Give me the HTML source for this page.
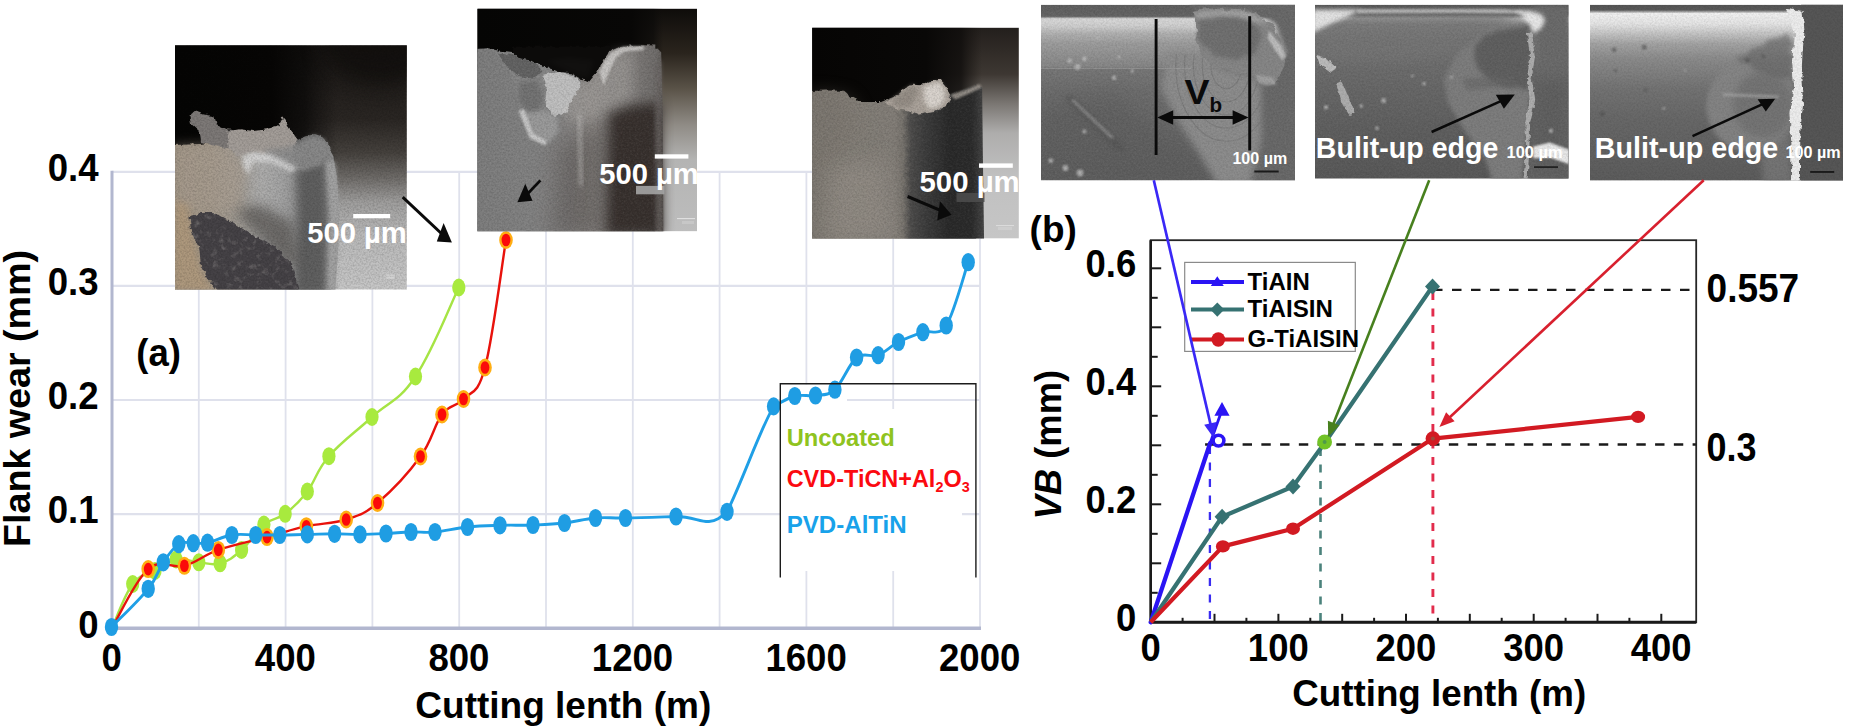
<!DOCTYPE html>
<html lang="en">
<head>
<meta charset="utf-8">
<title>Flank wear vs cutting length</title>
<style>
html,body{margin:0;padding:0;background:#fff;}
body{width:1850px;height:726px;overflow:hidden;}
svg{display:block;}
text{font-family:"Liberation Sans", Arial, Helvetica, sans-serif;font-weight:700;}
</style>
</head>
<body>
<svg width="1850" height="726" viewBox="0 0 1850 726">

<defs>

<filter color-interpolation-filters="sRGB" id="b1" x="-20%" y="-20%" width="140%" height="140%"><feGaussianBlur stdDeviation="1"/></filter>
<filter color-interpolation-filters="sRGB" id="b2" x="-20%" y="-20%" width="140%" height="140%"><feGaussianBlur stdDeviation="2"/></filter>
<filter color-interpolation-filters="sRGB" id="b3" x="-30%" y="-30%" width="160%" height="160%"><feGaussianBlur stdDeviation="3.5"/></filter>
<filter color-interpolation-filters="sRGB" id="b6" x="-40%" y="-40%" width="180%" height="180%"><feGaussianBlur stdDeviation="6"/></filter>
<filter color-interpolation-filters="sRGB" id="b10" x="-50%" y="-50%" width="200%" height="200%"><feGaussianBlur stdDeviation="10"/></filter>
<filter color-interpolation-filters="sRGB" id="soft" x="-5%" y="-5%" width="110%" height="110%"><feGaussianBlur stdDeviation="0.45"/></filter>

</defs>
<g id="chartA">
<line x1="198.8" y1="171.8" x2="198.8" y2="628.2" stroke="#dfe1ec" stroke-width="1.8"/>
<line x1="285.6" y1="171.8" x2="285.6" y2="628.2" stroke="#dfe1ec" stroke-width="1.8"/>
<line x1="372.4" y1="171.8" x2="372.4" y2="628.2" stroke="#dfe1ec" stroke-width="1.8"/>
<line x1="459.2" y1="171.8" x2="459.2" y2="628.2" stroke="#dfe1ec" stroke-width="1.8"/>
<line x1="546.0" y1="171.8" x2="546.0" y2="628.2" stroke="#dfe1ec" stroke-width="1.8"/>
<line x1="632.8" y1="171.8" x2="632.8" y2="628.2" stroke="#dfe1ec" stroke-width="1.8"/>
<line x1="719.6" y1="171.8" x2="719.6" y2="628.2" stroke="#dfe1ec" stroke-width="1.8"/>
<line x1="806.4" y1="171.8" x2="806.4" y2="628.2" stroke="#dfe1ec" stroke-width="1.8"/>
<line x1="893.2" y1="171.8" x2="893.2" y2="628.2" stroke="#dfe1ec" stroke-width="1.8"/>
<line x1="980.0" y1="171.8" x2="980.0" y2="628.2" stroke="#dfe1ec" stroke-width="1.8"/>
<line x1="112.0" y1="514.1" x2="980.0" y2="514.1" stroke="#dfe1ec" stroke-width="2.2"/>
<line x1="112.0" y1="400.0" x2="980.0" y2="400.0" stroke="#dfe1ec" stroke-width="2.2"/>
<line x1="112.0" y1="285.9" x2="980.0" y2="285.9" stroke="#dfe1ec" stroke-width="2.2"/>
<line x1="112.0" y1="171.8" x2="980.0" y2="171.8" stroke="#dfe1ec" stroke-width="2.2"/>
<line x1="112.0" y1="170.8" x2="112.0" y2="629.7" stroke="#b2b7cf" stroke-width="3"/>
<line x1="110.5" y1="628.2" x2="981.0" y2="628.2" stroke="#b2b7cf" stroke-width="3.4"/>
</g>
<g id="legendAbg">
<rect x="781" y="384.5" width="66" height="26" fill="#fff"/>
<rect x="781" y="409" width="181" height="162" fill="#fff"/>
<rect x="962" y="409" width="13" height="100" fill="#fff"/>
<rect x="962" y="518" width="13" height="53" fill="#fff"/>
</g>
<g id="seriesA" filter="url(#soft)">
<path d="M112.0,628.0 C116.1,619.2 124.1,595.4 132.7,584.0 C141.3,572.6 146.3,575.9 155.0,571.0 C163.7,566.1 167.3,561.2 176.1,559.5 C184.9,557.8 190.0,561.5 198.8,562.3 C207.6,563.1 211.5,565.8 220.1,563.3 C228.7,560.8 232.8,557.8 241.6,550.0 C250.4,542.2 255.2,531.7 263.9,524.5 C272.6,517.3 276.5,520.4 285.2,513.8 C293.9,507.2 298.6,503.0 307.3,491.5 C316.0,480.0 316.0,471.1 328.9,456.2 C341.8,441.3 354.7,432.9 372.0,417.0 C389.3,401.1 398.1,402.4 415.5,376.5 C432.9,350.6 450.1,305.3 458.8,287.5" fill="none" stroke="#a6e444" stroke-width="2.4"/>
<ellipse cx="132.7" cy="584" rx="6.6" ry="9" fill="#a8ea3e"/>
<ellipse cx="155" cy="571" rx="6.6" ry="9" fill="#a8ea3e"/>
<ellipse cx="176.1" cy="559.5" rx="6.6" ry="9" fill="#a8ea3e"/>
<ellipse cx="198.8" cy="562.3" rx="6.6" ry="9" fill="#a8ea3e"/>
<ellipse cx="220.1" cy="563.3" rx="6.6" ry="9" fill="#a8ea3e"/>
<ellipse cx="241.6" cy="550" rx="6.6" ry="9" fill="#a8ea3e"/>
<ellipse cx="263.9" cy="524.5" rx="6.6" ry="9" fill="#a8ea3e"/>
<ellipse cx="285.2" cy="513.8" rx="6.6" ry="9" fill="#a8ea3e"/>
<ellipse cx="307.3" cy="491.5" rx="6.6" ry="9" fill="#a8ea3e"/>
<ellipse cx="328.9" cy="456.2" rx="6.6" ry="9" fill="#a8ea3e"/>
<ellipse cx="372" cy="417" rx="6.6" ry="9" fill="#a8ea3e"/>
<ellipse cx="415.5" cy="376.5" rx="6.6" ry="9" fill="#a8ea3e"/>
<ellipse cx="458.8" cy="287.5" rx="6.6" ry="9" fill="#a8ea3e"/>
<path d="M112.0,628.0 C118.6,617.2 134.9,580.5 148.2,569.1 C161.5,557.7 171.5,569.3 184.4,565.8 C197.3,562.3 203.2,555.2 218.3,549.9 C233.4,544.6 250.9,541.4 267.0,537.1 C283.1,532.8 291.8,529.4 306.3,526.2 C320.8,523.0 333.1,523.8 346.2,519.5 C359.3,515.2 363.9,514.5 377.5,503.0 C391.1,491.4 408.7,472.7 420.5,456.5 C432.3,440.3 434.1,425.0 442.0,414.5 C449.9,404.0 455.6,407.6 463.5,399.0 C471.4,390.4 477.2,396.6 485.0,367.5 C492.8,338.4 502.1,263.4 506.0,240.0" fill="none" stroke="#e8120c" stroke-width="2.4"/>
<ellipse cx="148.2" cy="569.1" rx="6.8" ry="9" fill="#ffae12"/>
<ellipse cx="148.2" cy="569.1" rx="4.4" ry="6.3" fill="#fb0a0a"/>
<ellipse cx="184.4" cy="565.8" rx="6.8" ry="9" fill="#ffae12"/>
<ellipse cx="184.4" cy="565.8" rx="4.4" ry="6.3" fill="#fb0a0a"/>
<ellipse cx="218.3" cy="549.9" rx="6.8" ry="9" fill="#ffae12"/>
<ellipse cx="218.3" cy="549.9" rx="4.4" ry="6.3" fill="#fb0a0a"/>
<ellipse cx="267" cy="537.1" rx="6.8" ry="9" fill="#ffae12"/>
<ellipse cx="267" cy="537.1" rx="4.4" ry="6.3" fill="#fb0a0a"/>
<ellipse cx="306.3" cy="526.2" rx="6.8" ry="9" fill="#ffae12"/>
<ellipse cx="306.3" cy="526.2" rx="4.4" ry="6.3" fill="#fb0a0a"/>
<ellipse cx="346.2" cy="519.5" rx="6.8" ry="9" fill="#ffae12"/>
<ellipse cx="346.2" cy="519.5" rx="4.4" ry="6.3" fill="#fb0a0a"/>
<ellipse cx="377.5" cy="503" rx="6.8" ry="9" fill="#ffae12"/>
<ellipse cx="377.5" cy="503" rx="4.4" ry="6.3" fill="#fb0a0a"/>
<ellipse cx="420.5" cy="456.5" rx="6.8" ry="9" fill="#ffae12"/>
<ellipse cx="420.5" cy="456.5" rx="4.4" ry="6.3" fill="#fb0a0a"/>
<ellipse cx="442" cy="414.5" rx="6.8" ry="9" fill="#ffae12"/>
<ellipse cx="442" cy="414.5" rx="4.4" ry="6.3" fill="#fb0a0a"/>
<ellipse cx="463.5" cy="399" rx="6.8" ry="9" fill="#ffae12"/>
<ellipse cx="463.5" cy="399" rx="4.4" ry="6.3" fill="#fb0a0a"/>
<ellipse cx="485" cy="367.5" rx="6.8" ry="9" fill="#ffae12"/>
<ellipse cx="485" cy="367.5" rx="4.4" ry="6.3" fill="#fb0a0a"/>
<ellipse cx="506" cy="240" rx="6.8" ry="9" fill="#ffae12"/>
<ellipse cx="506" cy="240" rx="4.4" ry="6.3" fill="#fb0a0a"/>
<path d="M111.5,627.0 C118.8,619.4 137.8,601.7 148.2,588.8 C158.6,575.9 157.2,571.2 163.3,562.3 C169.4,553.4 172.8,547.9 178.8,544.1 C184.8,540.3 187.6,543.4 193.3,543.1 C199.0,542.8 199.8,544.3 207.5,542.7 C215.2,541.1 222.3,536.5 231.9,535.0 C241.5,533.5 246.1,535.0 255.7,535.0 C265.3,535.0 269.5,535.1 279.8,535.0 C290.1,534.9 296.3,534.6 307.3,534.4 C318.3,534.2 324.1,533.8 334.6,533.8 C345.1,533.8 349.7,534.5 360.0,534.4 C370.3,534.3 375.8,534.0 386.0,533.5 C396.2,533.0 401.2,532.3 411.0,532.0 C420.8,531.7 423.7,533.0 435.0,532.0 C446.3,531.0 454.5,528.3 467.5,527.0 C480.5,525.7 486.9,525.7 500.0,525.3 C513.1,524.9 520.1,525.5 533.0,525.0 C545.9,524.5 552.0,524.4 564.5,523.0 C577.0,521.6 583.3,519.0 595.5,518.0 C607.7,517.0 609.4,518.3 625.5,518.0 C641.6,517.7 665.9,516.8 676.0,516.5 C692,516.5 700,522 709,521.5 C717,521 721,517 727,511.8 C742,482 759,432 773.6,406.4 L773.6,406.4 C777.1,404.7 787.8,397.8 794.8,396.0 C801.8,394.2 808.8,396.6 815.5,395.5 C822.2,394.4 828.0,396.0 834.9,389.7 C841.8,383.4 849.4,363.3 856.6,357.5 C863.8,351.7 871.1,357.7 878.1,355.1 C885.1,352.5 891.0,345.8 898.5,342.0 C906.0,338.2 914.9,334.9 922.9,332.1 C930.9,329.4 938.7,337.1 946.2,325.5 C953.8,313.9 964.5,272.8 968.2,262.2" fill="none" stroke="#1f9fe6" stroke-width="2.9"/>
<ellipse cx="111.5" cy="627" rx="6.7" ry="9.1" fill="#1f9de3"/>
<ellipse cx="148.2" cy="588.8" rx="6.7" ry="9.1" fill="#1f9de3"/>
<ellipse cx="163.3" cy="562.3" rx="6.7" ry="9.1" fill="#1f9de3"/>
<ellipse cx="178.8" cy="544.1" rx="6.7" ry="9.1" fill="#1f9de3"/>
<ellipse cx="193.3" cy="543.1" rx="6.7" ry="9.1" fill="#1f9de3"/>
<ellipse cx="207.5" cy="542.7" rx="6.7" ry="9.1" fill="#1f9de3"/>
<ellipse cx="231.9" cy="535" rx="6.7" ry="9.1" fill="#1f9de3"/>
<ellipse cx="255.7" cy="535" rx="6.7" ry="9.1" fill="#1f9de3"/>
<ellipse cx="279.8" cy="535" rx="6.7" ry="9.1" fill="#1f9de3"/>
<ellipse cx="307.3" cy="534.4" rx="6.7" ry="9.1" fill="#1f9de3"/>
<ellipse cx="334.6" cy="533.8" rx="6.7" ry="9.1" fill="#1f9de3"/>
<ellipse cx="360" cy="534.4" rx="6.7" ry="9.1" fill="#1f9de3"/>
<ellipse cx="386" cy="533.5" rx="6.7" ry="9.1" fill="#1f9de3"/>
<ellipse cx="411" cy="532" rx="6.7" ry="9.1" fill="#1f9de3"/>
<ellipse cx="435" cy="532" rx="6.7" ry="9.1" fill="#1f9de3"/>
<ellipse cx="467.5" cy="527" rx="6.7" ry="9.1" fill="#1f9de3"/>
<ellipse cx="500" cy="525.3" rx="6.7" ry="9.1" fill="#1f9de3"/>
<ellipse cx="533" cy="525" rx="6.7" ry="9.1" fill="#1f9de3"/>
<ellipse cx="564.5" cy="523" rx="6.7" ry="9.1" fill="#1f9de3"/>
<ellipse cx="595.5" cy="518" rx="6.7" ry="9.1" fill="#1f9de3"/>
<ellipse cx="625.5" cy="518" rx="6.7" ry="9.1" fill="#1f9de3"/>
<ellipse cx="676" cy="516.5" rx="6.7" ry="9.1" fill="#1f9de3"/>
<ellipse cx="727" cy="511.8" rx="6.7" ry="9.1" fill="#1f9de3"/>
<ellipse cx="773.6" cy="406.4" rx="6.7" ry="9.1" fill="#1f9de3"/>
<ellipse cx="794.8" cy="396" rx="6.7" ry="9.1" fill="#1f9de3"/>
<ellipse cx="815.5" cy="395.5" rx="6.7" ry="9.1" fill="#1f9de3"/>
<ellipse cx="834.9" cy="389.7" rx="6.7" ry="9.1" fill="#1f9de3"/>
<ellipse cx="856.6" cy="357.5" rx="6.7" ry="9.1" fill="#1f9de3"/>
<ellipse cx="878.1" cy="355.1" rx="6.7" ry="9.1" fill="#1f9de3"/>
<ellipse cx="898.5" cy="342" rx="6.7" ry="9.1" fill="#1f9de3"/>
<ellipse cx="922.9" cy="332.1" rx="6.7" ry="9.1" fill="#1f9de3"/>
<ellipse cx="946.2" cy="325.5" rx="6.7" ry="9.1" fill="#1f9de3"/>
<ellipse cx="968.2" cy="262.2" rx="6.7" ry="9.1" fill="#1f9de3"/>
</g>
<g id="legendA">
<path d="M780.3,577.6 V383.8 H975.9 V577.6" fill="none" stroke="#1c1c1c" stroke-width="1.4"/>
<text x="786.7" y="445.8" font-size="23.6" fill="#8fc320" textLength="108" lengthAdjust="spacingAndGlyphs">Uncoated</text>
<text x="786.7" y="486.7" font-size="23.6" fill="#fb0a10" textLength="183" lengthAdjust="spacingAndGlyphs">CVD-TiCN+Al<tspan font-size="14.5" dy="5.5">2</tspan><tspan dy="-5.5">O</tspan><tspan font-size="14.5" dy="5.5">3</tspan></text>
<text x="786.7" y="532.7" font-size="23.6" fill="#18a2ea" textLength="120" lengthAdjust="spacingAndGlyphs">PVD-AlTiN</text>
</g>
<g id="textA" fill="#000">
<text transform="translate(98.6,637.5) scale(1,1.068)" font-size="36.6" text-anchor="end">0</text>
<text transform="translate(98.6,523.4) scale(1,1.068)" font-size="36.6" text-anchor="end">0.1</text>
<text transform="translate(98.6,409.3) scale(1,1.068)" font-size="36.6" text-anchor="end">0.2</text>
<text transform="translate(98.6,295.2) scale(1,1.068)" font-size="36.6" text-anchor="end">0.3</text>
<text transform="translate(98.6,181.1) scale(1,1.068)" font-size="36.6" text-anchor="end">0.4</text>
<text transform="translate(111.7,671.1) scale(1,1.068)" font-size="36.6" text-anchor="middle">0</text>
<text transform="translate(285.3,671.1) scale(1,1.068)" font-size="36.6" text-anchor="middle">400</text>
<text transform="translate(458.9,671.1) scale(1,1.068)" font-size="36.6" text-anchor="middle">800</text>
<text transform="translate(632.5,671.1) scale(1,1.068)" font-size="36.6" text-anchor="middle">1200</text>
<text transform="translate(806.1,671.1) scale(1,1.068)" font-size="36.6" text-anchor="middle">1600</text>
<text transform="translate(979.7,671.1) scale(1,1.068)" font-size="36.6" text-anchor="middle">2000</text>
<text x="415.3" y="718.3" font-size="36.6" textLength="296" lengthAdjust="spacingAndGlyphs">Cutting lenth (m)</text>
<text transform="translate(30.1,547) rotate(-90)" font-size="37.8" textLength="297" lengthAdjust="spacingAndGlyphs">Flank wear (mm)</text>
<text transform="translate(136.3,365.8) scale(1,1.045)" font-size="36.6">(a)</text>
</g>
<defs>

<filter color-interpolation-filters="sRGB" id="grain" x="0" y="0" width="100%" height="100%">
  <feTurbulence type="fractalNoise" baseFrequency="0.55" numOctaves="2" seed="7" result="n"/>
  <feColorMatrix in="n" type="matrix" values="0 0 0 0 0  0 0 0 0 0  0 0 0 0 0  0.9 0 0 0 -0.32"/>
</filter>
<filter color-interpolation-filters="sRGB" id="rough" x="-10%" y="-10%" width="120%" height="120%">
  <feTurbulence type="fractalNoise" baseFrequency="0.09" numOctaves="3" seed="3" result="t"/>
  <feDisplacementMap in="SourceGraphic" in2="t" scale="9" xChannelSelector="R" yChannelSelector="G"/>
  <feGaussianBlur stdDeviation="0.7"/>
</filter>
<filter color-interpolation-filters="sRGB" id="roughb" x="-15%" y="-15%" width="130%" height="130%">
  <feTurbulence type="fractalNoise" baseFrequency="0.09" numOctaves="3" seed="9" result="t"/>
  <feDisplacementMap in="SourceGraphic" in2="t" scale="10" xChannelSelector="R" yChannelSelector="G"/>
  <feGaussianBlur stdDeviation="2.2"/>
</filter>
<filter color-interpolation-filters="sRGB" id="b05" x="-5%" y="-5%" width="110%" height="110%"><feGaussianBlur stdDeviation="0.7"/></filter>
<filter color-interpolation-filters="sRGB" id="rough2" x="-10%" y="-10%" width="120%" height="120%">
  <feTurbulence type="fractalNoise" baseFrequency="0.2" numOctaves="2" seed="5" result="t"/>
  <feDisplacementMap in="SourceGraphic" in2="t" scale="5" xChannelSelector="R" yChannelSelector="G"/>
  <feGaussianBlur stdDeviation="0.6"/>
</filter>
<filter color-interpolation-filters="sRGB" id="mottle" x="0" y="0" width="100%" height="100%">
  <feTurbulence type="fractalNoise" baseFrequency="0.16" numOctaves="3" seed="21" result="n"/>
  <feColorMatrix in="n" type="matrix" values="0 0 0 0 0.75  0 0 0 0 0.73  0 0 0 0 0.72  1.6 0 0 0 -0.85" result="m"/>
  <feComposite in="m" in2="SourceGraphic" operator="in"/>
</filter>
<filter color-interpolation-filters="sRGB" id="grainL" x="0" y="0" width="100%" height="100%">
  <feTurbulence type="fractalNoise" baseFrequency="0.5" numOctaves="2" seed="11" result="n"/>
  <feColorMatrix in="n" type="matrix" values="0 0 0 0 1  0 0 0 0 1  0 0 0 0 1  0.9 0 0 0 -0.36"/>
</filter>


<linearGradient id="p1bg" x1="0" y1="0" x2="0" y2="1">
 <stop offset="0" stop-color="#1b1816"/><stop offset="0.3" stop-color="#2a2623"/>
 <stop offset="0.44" stop-color="#46423e"/><stop offset="0.54" stop-color="#6e6b68"/>
 <stop offset="0.64" stop-color="#9f9e9d"/><stop offset="0.78" stop-color="#bababa"/>
 <stop offset="1" stop-color="#c7c7c7"/>
</linearGradient>
<linearGradient id="p1blk" x1="0" y1="0" x2="1" y2="0">
 <stop offset="0" stop-color="#050504" stop-opacity="1"/><stop offset="0.42" stop-color="#070605" stop-opacity="1"/>
 <stop offset="0.56" stop-color="#0b0a09" stop-opacity="0.8"/><stop offset="0.66" stop-color="#100e0d" stop-opacity="0.25"/>
 <stop offset="0.7" stop-color="#141210" stop-opacity="0"/><stop offset="1" stop-color="#141210" stop-opacity="0"/>
</linearGradient>
<linearGradient id="p1tool" gradientUnits="userSpaceOnUse" x1="-1.3" y1="0" x2="164.4" y2="0">
 <stop offset="0" stop-color="#9a8f7f"/><stop offset="0.22" stop-color="#9f9587"/>
 <stop offset="0.42" stop-color="#a29e98"/><stop offset="0.55" stop-color="#a8a7a5"/>
 <stop offset="0.64" stop-color="#969696"/><stop offset="0.74" stop-color="#686868"/>
 <stop offset="0.88" stop-color="#6e6e6e"/><stop offset="0.96" stop-color="#8e8e8e"/>
 <stop offset="1" stop-color="#a0a0a0"/>
</linearGradient>


<linearGradient id="p2bg" x1="0" y1="0" x2="0" y2="1">
 <stop offset="0" stop-color="#0e0c0a"/><stop offset="0.2" stop-color="#2a241d"/>
 <stop offset="0.36" stop-color="#5a5348"/><stop offset="0.52" stop-color="#8f8b85"/>
 <stop offset="0.68" stop-color="#b4b4b3"/><stop offset="1" stop-color="#bdbdbd"/>
</linearGradient>
<linearGradient id="p2blk" x1="0" y1="0" x2="1" y2="0">
 <stop offset="0" stop-color="#050504" stop-opacity="1"/><stop offset="0.7" stop-color="#080706" stop-opacity="1"/>
 <stop offset="0.8" stop-color="#0b0a09" stop-opacity="0.7"/><stop offset="0.845" stop-color="#100e0d" stop-opacity="0"/>
 <stop offset="1" stop-color="#100e0d" stop-opacity="0"/>
</linearGradient>
<linearGradient id="p2tool" gradientUnits="userSpaceOnUse" x1="-1.7" y1="0" x2="186.1" y2="0">
 <stop offset="0" stop-color="#7c7c7c"/><stop offset="0.3" stop-color="#818181"/>
 <stop offset="0.5" stop-color="#838180"/><stop offset="0.62" stop-color="#8a8683"/>
 <stop offset="0.72" stop-color="#7d7a78"/><stop offset="0.85" stop-color="#7a7775"/>
 <stop offset="0.96" stop-color="#6f6c6a"/><stop offset="1" stop-color="#5f5b58"/>
</linearGradient>
<linearGradient id="p2dark" x1="0" y1="0" x2="0" y2="1">
 <stop offset="0" stop-color="#2a2624" stop-opacity="0"/><stop offset="0.35" stop-color="#2a2624" stop-opacity="0"/>
 <stop offset="0.6" stop-color="#2a2624" stop-opacity="0.55"/><stop offset="1" stop-color="#242120" stop-opacity="0.6"/>
</linearGradient>


<linearGradient id="p3bg" x1="0" y1="0" x2="0" y2="1">
 <stop offset="0" stop-color="#231f1c"/><stop offset="0.22" stop-color="#3d3732"/>
 <stop offset="0.36" stop-color="#7a7672"/><stop offset="0.5" stop-color="#aeadac"/>
 <stop offset="0.7" stop-color="#c0c0c0"/><stop offset="1" stop-color="#c6c6c6"/>
</linearGradient>
<linearGradient id="p3blk" x1="0" y1="0" x2="1" y2="0">
 <stop offset="0" stop-color="#060504" stop-opacity="1"/><stop offset="0.55" stop-color="#090807" stop-opacity="1"/>
 <stop offset="0.72" stop-color="#0e0c0b" stop-opacity="0.8"/><stop offset="0.82" stop-color="#15120f" stop-opacity="0"/>
 <stop offset="1" stop-color="#15120f" stop-opacity="0"/>
</linearGradient>
<linearGradient id="p3tool" gradientUnits="userSpaceOnUse" x1="-1.2" y1="0" x2="172" y2="0">
 <stop offset="0" stop-color="#7b766f"/><stop offset="0.25" stop-color="#837e77"/>
 <stop offset="0.48" stop-color="#827d77"/><stop offset="0.53" stop-color="#77736d"/>
 <stop offset="0.575" stop-color="#4d4c4b"/><stop offset="0.66" stop-color="#3c3c3c"/>
 <stop offset="0.8" stop-color="#292929"/><stop offset="0.93" stop-color="#2b2b2b"/>
 <stop offset="1" stop-color="#454545"/>
</linearGradient>


<linearGradient id="s1top" x1="0" y1="0" x2="0" y2="1">
 <stop offset="0" stop-color="#5e5e5e"/><stop offset="0.066" stop-color="#646464"/>
 <stop offset="0.08" stop-color="#d8d8d8"/><stop offset="0.12" stop-color="#cfcfcf"/>
 <stop offset="0.165" stop-color="#b0b0b0"/><stop offset="0.22" stop-color="#9c9c9c"/>
 <stop offset="0.35" stop-color="#868686"/><stop offset="0.365" stop-color="#767676"/>
 <stop offset="0.5" stop-color="#6c6c6c"/><stop offset="1" stop-color="#606060"/>
</linearGradient>
<clipPath id="s1wear"><polygon points="128,49 156,50 179,64 212,72 220,81 220,136 214,160 210,180 177,180 156,146 136,117 119,83"/></clipPath>
<linearGradient id="s2top" x1="0" y1="0" x2="0" y2="1">
 <stop offset="0" stop-color="#575757"/><stop offset="0.055" stop-color="#5c5c5c"/>
 <stop offset="0.08" stop-color="#b4b4b4"/><stop offset="0.115" stop-color="#868686"/>
 <stop offset="0.2" stop-color="#747474"/><stop offset="0.45" stop-color="#686868"/>
 <stop offset="0.7" stop-color="#5f5f5f"/><stop offset="1" stop-color="#585858"/>
</linearGradient>
<linearGradient id="s3top" x1="0" y1="0" x2="0" y2="1">
 <stop offset="0" stop-color="#555"/><stop offset="0.03" stop-color="#5a5a5a"/>
 <stop offset="0.05" stop-color="#f0f0f0"/><stop offset="0.11" stop-color="#e4e4e4"/>
 <stop offset="0.157" stop-color="#c8c8c8"/><stop offset="0.224" stop-color="#a2a2a2"/>
 <stop offset="0.308" stop-color="#8b8b8b"/><stop offset="0.475" stop-color="#737373"/>
 <stop offset="0.64" stop-color="#686868"/><stop offset="1" stop-color="#5c5c5c"/>
</linearGradient>

</defs>
<svg id="photo1" x="175" y="45.2" width="231.8" height="244.3" viewBox="0 0 231.8 244.3" overflow="hidden">
<rect width="232" height="245" fill="url(#p1bg)"/>
<rect x="0" y="0" width="232" height="128" fill="url(#p1blk)"/>
<ellipse cx="205" cy="-5" rx="60" ry="45" fill="#100e0c" opacity="0.75" filter="url(#b10)"/>
<polygon points="-1.3,103.0 15.7,102.5 26.2,102.0 39.3,99.9 52.4,97.3 73.3,92.0 89.0,89.4 104.7,86.8 115.2,89.4 123.0,97.8 130.9,94.6 138.7,92.0 146.6,94.6 153.1,101.2 158.4,111.1 161.8,130.7 164.4,164.7 163.4,201.4 160.2,245.9 -1.3,245.9" fill="url(#p1tool)" filter="url(#b05)"/>
<clipPath id="p1tc"><rect x="-5" y="-5" width="161.0" height="260"/></clipPath>
<g clip-path="url(#p1tc)"><polygon points="-1.3,99.8 15.7,99.3 26.2,98.8 39.3,96.7 52.4,94.1 73.3,88.8 89.0,86.2 104.7,83.6 115.2,86.2 123.0,94.6 130.9,91.4 138.7,88.8 146.6,91.4 153.1,98.0 158.4,111.1 161.8,130.7 164.4,164.7 163.4,201.4 160.2,245.9 -1.3,245.9" fill="url(#p1tool)" filter="url(#rough2)"/></g>
<polygon points="-1.3,100.6 52.4,99.3 73.3,122.9 65.4,164.7 15.7,170.0 -1.3,164.7" fill="#ab9f92" opacity="0.6" filter="url(#b6)"/>
<polygon points="74.6,107.1 115.2,104.5 123.0,122.9 123.0,185.7 119.1,245.9 104.7,245.9 86.4,201.4 75.9,159.5" fill="#b0b0b0" opacity="0.6" filter="url(#b6)"/>
<polygon points="123.0,120.2 146.6,116.3 150.5,159.5 147.9,245.9 123.0,245.9 125.7,180.4" fill="#5c5c5c" opacity="0.75" filter="url(#b3)"/>
<polygon points="150.5,115.0 160.2,117.6 163.6,164.7 161.0,245.9 151.8,245.9 154.5,172.6" fill="#a9a9a9" opacity="0.8" filter="url(#b2)"/>
<polygon points="14.4,70.5 19.6,65.8 28.8,69.2 39.3,71.0 41.9,79.7 52.4,84.1 62.8,85.7 72.0,88.3 65.4,100.6 52.4,103.2 36.6,99.8 26.2,96.7 24.9,87.5 16.2,79.7" fill="#7d7977" filter="url(#rough2)"/>
<polygon points="52.4,86.2 65.4,84.1 78.5,85.7 91.6,84.1 103.4,81.0 108.6,71.0 113.1,81.0 117.8,87.5 123.0,95.4 115.2,107.1 99.5,111.1 78.5,107.1 62.8,111.1 53.7,103.2" fill="#a39d98" filter="url(#rough2)"/>
<polygon points="89.0,104.5 109.9,101.9 123.0,98.0 138.7,90.1 149.2,94.1 154.5,107.1 146.6,120.2 125.7,126.8 109.9,120.2 94.2,113.7" fill="#8e8e8e" opacity="0.85" filter="url(#b2)"/>
<polygon points="66.8,111.1 78.5,107.1 94.2,108.5 109.9,116.3 123.0,123.4 115.2,126.8 96.9,117.6 78.5,116.3 73.3,129.4 68.6,122.9" fill="#dcdcdc" opacity="0.8" filter="url(#b2)"/>
<polygon points="60.2,164.7 86.4,159.5 117.8,177.8 123.0,217.1 115.2,222.3 86.4,196.2" fill="#55524f" opacity="0.7" filter="url(#b6)"/>
<polygon points="-1.3,154.3 13.1,159.5 18.3,190.9 26.2,224.9 39.3,245.9 -1.3,245.9" fill="#b29a7c" opacity="0.8" filter="url(#b3)"/>
<polygon points="14.4,171.3 26.2,167.9 39.3,167.9 57.6,177.3 78.5,190.4 99.5,200.9 115.2,216.6 120.9,232.8 123.6,245.9 43.2,245.9 32.7,232.8 26.2,222.3 24.1,201.4 16.2,187.0" fill="#454246" filter="url(#rough2)"/>
<polygon points="14.4,171.3 26.2,167.9 39.3,167.9 57.6,177.3 78.5,190.4 99.5,200.9 115.2,216.6 120.9,232.8 123.6,245.9 43.2,245.9 32.7,232.8 26.2,222.3 24.1,201.4 16.2,187.0" fill="#fff" filter="url(#mottle)" opacity="0.55"/>
<rect width="232" height="245" filter="url(#grain)" opacity="0.35"/>
</svg>
<rect x="353.2" y="214" width="37" height="4.3" fill="#fff"/>
<text transform="translate(307.2,242.7) scale(1,1.09)" font-size="27.6" fill="#fff" textLength="99.6" lengthAdjust="spacingAndGlyphs">500 µm</text>
<rect x="386" y="274.6" width="9" height="0.9" fill="#ddd"/><rect x="386.5" y="276.6" width="8" height="2.2" fill="#d6d6d6" opacity="0.8"/>
<line x1="402.7" y1="197.2" x2="443" y2="235" stroke="#0a0a0a" stroke-width="3"/><polygon points="443.6,223 436.8,241.4 451.9,242.4" fill="#0a0a0a"/>
<svg id="photo2" x="477.3" y="8.6" width="219.7" height="222.7" viewBox="0 0 219.7 222.7" overflow="hidden">
<rect width="220" height="223" fill="url(#p2bg)"/>
<rect x="0" y="0" width="220" height="62" fill="url(#p2blk)"/>
<polygon points="-1.7,43.5 10.8,42.9 22.0,45.2 35.9,46.8 41.4,52.4 69.3,60.8 91.5,66.3 102.6,72.4 111.0,76.3 119.3,66.3 126.3,53.8 133.2,45.7 144.4,40.7 161.1,39.9 180.5,40.2 183.9,43.6 185.5,104.8 186.1,227.2 -1.7,227.2" fill="url(#p2tool)" filter="url(#b05)"/>
<clipPath id="p2tc"><rect x="-5" y="-5" width="183.0" height="260"/></clipPath>
<g clip-path="url(#p2tc)"><polygon points="-1.7,40.3 10.8,39.7 22.0,42.0 35.9,43.6 41.4,49.2 69.3,57.6 91.5,63.1 102.6,69.2 111.0,73.1 119.3,63.1 126.3,50.6 133.2,42.5 144.4,37.5 161.1,36.7 180.5,37.0 183.9,43.6 185.5,104.8 186.1,227.2 -1.7,227.2" fill="url(#p2tool)" filter="url(#rough2)"/></g>
<polygon points="83.2,79.8 111.0,74.2 130.5,52.0 138.8,43.6 155.5,43.6 155.5,90.9 130.5,104.8 111.0,113.2 88.7,113.2" fill="#a09d9a" opacity="0.65" filter="url(#b6)"/>
<polygon points="80.4,138.2 130.5,113.2 130.5,227.2 74.8,227.2" fill="#5f5b59" opacity="0.6" filter="url(#b10)"/>
<polygon points="131.8,104.8 155.5,96.5 183.9,93.7 185.5,227.2 129.1,227.2 130.5,154.9" fill="#342d2a" opacity="0.95" filter="url(#b6)"/>
<polygon points="177.7,54.8 183.9,52.0 185.5,227.2 179.1,227.2" fill="#6a6563" opacity="0.7" filter="url(#b2)"/>
<polygon points="100.4,104.8 104.0,104.8 105.4,177.2 102.1,177.2" fill="#c4c2c0" opacity="0.6" filter="url(#b2)"/>
<polygon points="16.4,43.1 35.9,44.2 55.4,52.0 69.3,58.1 91.5,63.7 102.6,70.1 103.2,78.4 91.5,93.7 83.2,104.8 80.9,124.3 69.3,136.0 52.6,127.6 41.4,104.8 37.3,77.0 30.3,57.6" fill="#858585" filter="url(#rough2)"/>
<polygon points="20.6,45.0 35.9,46.4 58.1,54.2 65.1,63.1 55.4,70.1 41.4,67.3 28.9,57.6" fill="#5f5f5f" opacity="0.9" filter="url(#rough2)"/>
<polygon points="41.4,74.2 59.5,71.5 66.5,88.2 62.3,102.1 52.6,104.8 41.4,93.7" fill="#6e6e6e" opacity="0.8" filter="url(#b2)"/>
<polygon points="65.1,65.9 83.2,63.1 100.4,69.2 103.2,78.4 95.7,89.5 88.7,104.8 74.8,107.6 67.9,93.7 69.3,78.4" fill="#d8d8d8" opacity="0.7" filter="url(#rough2)"/>
<polygon points="44.2,104.8 69.3,102.1 80.4,110.4 80.4,124.3 69.3,135.4 54.0,127.1" fill="#9c9c9c" opacity="0.9" filter="url(#b2)"/>
<polygon points="41.4,102.1 47.0,100.7 55.4,124.3 69.3,132.7 67.9,136.8 52.6,129.9" fill="#d5d5d5" opacity="0.8" filter="url(#b1)"/>
<polygon points="35.9,38.1 133.2,38.1 127.1,50.6 119.9,63.1 111.5,73.1 103.2,69.8 92.9,64.2 80.4,63.1 69.3,58.1 55.4,52.5 41.4,49.2 35.3,43.6" fill="#0e0d0c" filter="url(#rough2)"/>
<polygon points="69.3,52.0 91.5,49.2 116.6,52.0 111.0,68.7 102.6,67.3 91.5,63.1" fill="#2c2b2a" opacity="0.8" filter="url(#b2)"/>
<polygon points="122.1,63.1 128.2,50.6 134.6,43.1 145.8,38.1 166.6,37.5 166.6,41.4 147.1,43.1 138.8,49.2 130.5,65.9 126.3,77.0" fill="#d2d0ce" opacity="0.8" filter="url(#b1)"/>
<clipPath id="p2clip"><polygon points="-1.7,40.3 10.8,39.7 22.0,42.0 35.9,43.6 41.4,49.2 69.3,57.6 91.5,63.1 102.6,69.2 111.0,73.1 119.3,63.1 126.3,50.6 133.2,42.5 144.4,37.5 161.1,36.7 180.5,37.0 183.9,43.6 185.5,104.8 186.1,227.2 -1.7,227.2"/></clipPath>
<g clip-path="url(#p2clip)"><rect width="220" height="223" filter="url(#grain)" opacity="0.3"/><rect width="220" height="223" filter="url(#grainL)" opacity="0.15"/></g>
<polygon points="35.9,38.1 133.2,38.1 127.1,50.6 119.9,63.1 111.5,73.1 103.2,69.8 92.9,64.2 80.4,63.1 69.3,58.1 55.4,52.5 41.4,49.2 35.3,43.6" fill="#0c0b0a" opacity="0.8" filter="url(#rough2)"/>
</svg>
<rect x="636" y="185.9" width="28.5" height="8.4" fill="#a4a4a4" opacity="0.9"/>
<rect x="654.8" y="154.3" width="33.6" height="4.3" fill="#fff"/>
<text transform="translate(599.2,183.7) scale(1,1.09)" font-size="27.6" fill="#fff" textLength="99.6" lengthAdjust="spacingAndGlyphs">500 µm</text>
<rect x="677" y="218.2" width="18" height="0.9" fill="#e8e8e8"/><rect x="682" y="221" width="12" height="3" fill="#ccc" opacity="0.7"/>
<line x1="540.4" y1="180.4" x2="525.5" y2="196" stroke="#0a0a0a" stroke-width="2.8"/><polygon points="525.3,183.8 517.4,202.3 532.5,200.8" fill="#0a0a0a"/>
<svg id="photo3" x="812.1" y="27.6" width="206.7" height="210.8" viewBox="0 0 206.7 210.8" overflow="hidden">
<rect width="207" height="211" fill="url(#p3bg)"/>
<rect x="0" y="0" width="207" height="76" fill="url(#p3blk)"/>
<clipPath id="p3clip"><polygon points="-1.2,63.5 14.8,63.0 32.0,63.2 39.4,69.4 49.3,74.3 69.0,74.3 81.3,69.4 91.2,62.0 101.0,56.1 110.9,57.0 118.3,53.6 128.1,52.1 134.3,59.5 138.5,66.9 152.8,62.0 167.6,55.8 170.0,60.0 170.8,131.0 172.0,214.8 -1.2,214.8"/></clipPath>
<polygon points="-1.2,66.7 14.8,66.2 32.0,66.4 39.4,72.6 49.3,77.5 69.0,77.5 81.3,72.6 91.2,65.2 101.0,59.3 110.9,60.2 118.3,56.8 128.1,55.3 134.3,62.7 138.5,70.1 152.8,65.2 167.6,59.0 170.0,60.0 170.8,131.0 172.0,214.8 -1.2,214.8" fill="url(#p3tool)" filter="url(#b05)"/>
<clipPath id="p3tc"><rect x="-5" y="-5" width="169.0" height="260"/></clipPath>
<g clip-path="url(#p3tc)"><polygon points="-1.2,63.5 14.8,63.0 32.0,63.2 39.4,69.4 49.3,74.3 69.0,74.3 81.3,69.4 91.2,62.0 101.0,56.1 110.9,57.0 118.3,53.6 128.1,52.1 134.3,59.5 138.5,66.9 152.8,62.0 167.6,55.8 170.0,60.0 170.8,131.0 172.0,214.8 -1.2,214.8" fill="url(#p3tool)" filter="url(#rough2)"/></g>
<polygon points="14.8,138.4 73.9,131.0 83.8,214.8 9.9,214.8" fill="#9a948c" opacity="0.5" filter="url(#b10)"/>
<polygon points="-1.2,66.9 37.0,71.8 49.3,106.3 14.8,121.1 -1.2,113.7" fill="#7b766f" opacity="0.5" filter="url(#b10)"/>
<polygon points="73.9,74.8 82.6,69.4 91.7,62.0 101.5,56.1 110.9,57.0 118.8,53.6 128.6,52.1 134.5,59.5 139.2,67.4 135.0,78.0 123.2,84.2 106.0,87.1 93.6,82.9 83.8,81.7" fill="#a9a199" filter="url(#rough2)"/>
<polygon points="111.4,60.0 118.8,56.1 127.6,54.6 132.1,61.5 132.6,71.8 126.9,79.2 117.1,81.2 112.1,73.1" fill="#e4dfd9" opacity="0.8" filter="url(#b2)"/>
<polygon points="78.9,73.1 91.7,63.2 101.0,57.0 106.0,64.4 98.6,79.2 86.2,80.5" fill="#8d867e" opacity="0.75" filter="url(#b2)"/>
<polygon points="138.0,67.4 152.8,62.5 167.6,56.3 169.5,60.0 157.7,65.7 142.9,71.8" fill="#a9a29a" opacity="0.8" filter="url(#b1)"/>
<g clip-path="url(#p3clip)"><rect width="207" height="211" filter="url(#grain)" opacity="0.3"/><rect width="207" height="211" filter="url(#grainL)" opacity="0.12"/></g>
</svg>
<rect x="956.5" y="193" width="28" height="9" fill="#4e4e4e" opacity="0.85"/>
<rect x="979" y="163.4" width="33.8" height="4.4" fill="#fff"/>
<text transform="translate(919.5,191.6) scale(1,1.09)" font-size="27.6" fill="#fff" textLength="100.2" lengthAdjust="spacingAndGlyphs">500 µm</text>
<rect x="996" y="225.2" width="18" height="0.9" fill="#e0e0e0"/><rect x="998" y="227" width="14" height="3" fill="#d2d2d2" opacity="0.7"/>
<line x1="907.6" y1="196.5" x2="941" y2="210.6" stroke="#0a0a0a" stroke-width="3"/><polygon points="940,201.2 937.2,220.4 951.5,214.7" fill="#0a0a0a"/>
<svg id="sem1" x="1041" y="4.7" width="254" height="175.5" viewBox="0 0 254 175.5" overflow="hidden">
<rect width="254" height="176" fill="url(#s1top)"/>
<polygon points="-2.4,101.7 73.1,91.9 146.3,145.6 170.6,179.7 -2.4,179.7" fill="#5b5b5b" opacity="0.55" filter="url(#b10)"/>
<polygon points="23.2,93.1 30.5,90.7 84.1,143.1 78.0,148.0" fill="#555" opacity="0.7" filter="url(#b2)"/>
<polygon points="29.3,95.6 32.9,94.4 73.1,132.2 70.2,134.6" fill="#8e8e8e" opacity="0.7" filter="url(#b1)"/>
<polygon points="148.7,-1.9 258.4,-1.9 258.4,179.7 209.7,179.7 220.6,135.8 220.6,79.7 246.2,48.0 234.0,18.8 207.2,4.2 151.1,5.4" fill="#686868" filter="url(#b2)"/>
<polygon points="128.0,48.0 156.0,49.3 179.2,63.9 212.1,71.2 219.9,81.0 220.6,135.8 214.5,160.2 209.7,179.7 176.7,179.7 156.0,145.6 136.5,116.3 119.5,82.2" fill="#8b8b8b" filter="url(#b3)"/>
<ellipse cx="185.3" cy="60.9" rx="15.4" ry="23.0" fill="none" stroke="#6f6f6f" stroke-width="1.1" opacity="0.55" clip-path="url(#s1wear)"/>
<ellipse cx="185.3" cy="60.9" rx="24.1" ry="36.2" fill="none" stroke="#6f6f6f" stroke-width="1.1" opacity="0.55" clip-path="url(#s1wear)"/>
<ellipse cx="185.3" cy="60.9" rx="32.9" ry="49.4" fill="none" stroke="#6f6f6f" stroke-width="1.1" opacity="0.55" clip-path="url(#s1wear)"/>
<ellipse cx="185.3" cy="60.9" rx="41.7" ry="62.5" fill="none" stroke="#6f6f6f" stroke-width="1.1" opacity="0.55" clip-path="url(#s1wear)"/>
<ellipse cx="185.3" cy="60.9" rx="50.5" ry="75.7" fill="none" stroke="#6f6f6f" stroke-width="1.1" opacity="0.55" clip-path="url(#s1wear)"/>
<polygon points="151.6,7.1 170.6,4.7 207.2,5.6 220.6,12.7 234.5,21.7 245.2,48.0 240.1,67.6 234.0,80.2 220.6,77.3 212.1,70.5 195.0,67.6 178.4,63.2 160.9,51.7 154.1,38.3 156.0,26.1" fill="#858585" filter="url(#rough)"/>
<polygon points="156.0,13.9 185.3,10.3 207.2,13.9 219.4,28.5 214.5,48.0 195.0,55.4 170.6,48.0 158.5,33.4" fill="#6a6a6a" opacity="0.8" filter="url(#roughb)"/>
<polygon points="153.6,7.8 185.3,5.4 207.2,6.6 226.7,18.8 219.4,18.8 195.0,11.5 170.6,11.5 156.0,13.9" fill="#ababab" opacity="0.8" filter="url(#b2)"/>
<polygon points="227.9,26.1 240.1,40.7 245.0,51.7 241.3,55.4 234.0,45.6 226.7,33.4" fill="#c9c9c9" opacity="0.8" filter="url(#b1)"/>
<polygon points="214.5,70.0 231.6,72.4 235.3,79.7 224.3,81.0 217.0,77.3" fill="#a5a5a5" opacity="0.8" filter="url(#b1)"/>
<circle cx="28.8" cy="56.1" r="2.2" fill="#c4c4c4" opacity="0.75" filter="url(#b1)"/>
<circle cx="43.4" cy="54.1" r="2.4" fill="#c4c4c4" opacity="0.75" filter="url(#b1)"/>
<circle cx="36.6" cy="62.2" r="2.9" fill="#c4c4c4" opacity="0.75" filter="url(#b1)"/>
<circle cx="45.1" cy="24.4" r="1.7" fill="#c4c4c4" opacity="0.75" filter="url(#b1)"/>
<circle cx="56.1" cy="32.9" r="1.5" fill="#c4c4c4" opacity="0.75" filter="url(#b1)"/>
<circle cx="43.4" cy="126.8" r="2.0" fill="#c4c4c4" opacity="0.75" filter="url(#b1)"/>
<circle cx="73.1" cy="73.1" r="2.2" fill="#c4c4c4" opacity="0.75" filter="url(#b1)"/>
<circle cx="91.4" cy="66.3" r="1.7" fill="#c4c4c4" opacity="0.75" filter="url(#b1)"/>
<circle cx="24.4" cy="163.3" r="2.9" fill="#c4c4c4" opacity="0.75" filter="url(#b1)"/>
<circle cx="39.0" cy="168.2" r="3.4" fill="#c4c4c4" opacity="0.75" filter="url(#b1)"/>
<circle cx="9.8" cy="156.0" r="2.4" fill="#c4c4c4" opacity="0.75" filter="url(#b1)"/>
<circle cx="78.0" cy="52.4" r="1.5" fill="#c4c4c4" opacity="0.75" filter="url(#b1)"/>
<rect x="0" y="63.5" width="150" height="0.8" fill="#a6a6a6" opacity="0.6"/>
<rect width="254" height="176" filter="url(#grain)" opacity="0.22"/>
<rect width="254" height="176" filter="url(#grainL)" opacity="0.12"/>
</svg>
<line x1="1156.1" y1="19" x2="1156.1" y2="155" stroke="#0a0a0a" stroke-width="2.9"/>
<line x1="1249.7" y1="16.2" x2="1249.7" y2="150.5" stroke="#0a0a0a" stroke-width="2.9"/>
<line x1="1168" y1="117.5" x2="1238" y2="117.5" stroke="#0a0a0a" stroke-width="3"/>
<polygon points="1157.3,117.5 1173.2,110.2 1173.2,124.8" fill="#0a0a0a"/>
<polygon points="1248.6,117.5 1232.6,110.2 1232.6,124.8" fill="#0a0a0a"/>
<text x="1184.6" y="103.9" font-size="35.6" fill="#0a0a0a" textLength="25" lengthAdjust="spacingAndGlyphs">V</text>
<text x="1209.6" y="112.4" font-size="20.6" fill="#0a0a0a">b</text>
<text x="1232.4" y="163.8" font-size="16" fill="#fff" textLength="54.8" lengthAdjust="spacingAndGlyphs">100 µm</text>
<rect x="1254.3" y="170.5" width="24.4" height="2" fill="#1a1a1a"/>
<svg id="sem2" x="1315" y="4.7" width="253.5" height="173.7" viewBox="0 0 253.5 173.7" overflow="hidden">
<rect width="254" height="175" fill="url(#s2top)"/>
<polygon points="0.0,20.1 26.7,8.9 188.9,5.8 207.2,11.0 173.2,29.3 147.0,47.6 99.9,55.5 42.4,56.8 0.0,51.5" fill="#757575" opacity="0.7" filter="url(#b6)"/>
<polygon points="-2.1,4.7 46.3,4.7 34.5,11.0 18.8,17.5 5.8,24.1 -2.1,28.0" fill="#e2e2e2" filter="url(#b2)"/>
<polygon points="42.4,4.2 188.9,4.2 207.2,5.8 207.2,8.9 147.0,8.4 42.4,8.9" fill="#c6c6c6" opacity="0.8" filter="url(#b1)"/>
<polygon points="217.7,0.5 254.3,0.5 254.3,175.8 212.5,175.8 220.3,99.9 224.2,47.6" fill="#6a6a6a" filter="url(#b2)"/>
<polygon points="220.3,73.8 254.3,73.8 254.3,175.8 212.5,175.8" fill="#5c5c5c" opacity="0.7" filter="url(#b6)"/>
<polygon points="199.4,6.3 215.1,5.8 226.8,9.7 230.2,16.2 225.5,24.6 218.2,28.3 213.0,20.1 207.2,11.0" fill="#e6e6e6" filter="url(#b2)"/>
<polygon points="173.2,24.1 212.5,18.8 216.4,73.8 212.5,126.1 207.2,175.8 177.1,175.8 170.6,154.9 149.7,126.1 132.7,97.3 128.7,73.8 141.8,48.9" fill="#7c7c7c" filter="url(#b2)"/>
<polygon points="173.2,29.3 212.5,21.5 217.7,47.6 215.6,81.6 196.8,85.6 170.6,73.8 157.5,55.5 162.7,38.5" fill="#595959" opacity="0.8" filter="url(#roughb)"/>
<polygon points="147.0,73.8 199.4,71.2 199.4,81.6 152.3,85.6" fill="#666" opacity="0.6" filter="url(#b2)"/>
<polygon points="211.9,28.0 217.2,28.8 219.8,52.9 216.6,73.8 220.3,94.7 215.1,118.3 214.5,141.8 212.5,175.8 208.5,175.8 211.1,141.8 210.4,118.3 214.5,94.7 211.9,73.8 215.1,52.9" fill="#b4b4b4" opacity="0.9" filter="url(#rough2)"/>
<polygon points="218.2,141.8 234.7,137.9 254.3,145.0 254.3,159.6 234.7,152.8 218.2,153.6" fill="#e8e8e8" filter="url(#b1)"/>
<polygon points="1.0,50.2 11.0,53.4 21.5,63.3 16.2,67.2 4.4,59.4" fill="#cfcfcf" opacity="0.8" filter="url(#rough2)"/>
<polygon points="20.9,79.0 26.7,76.4 34.5,94.7 39.8,107.8 34.5,110.4 26.7,97.3" fill="#c4c4c4" opacity="0.75" filter="url(#rough2)"/>
<circle cx="109.1" cy="79.0" r="1.8" fill="#c8c8c8" opacity="0.75" filter="url(#b1)"/>
<circle cx="68.6" cy="96.0" r="2.4" fill="#c8c8c8" opacity="0.75" filter="url(#b1)"/>
<circle cx="11.0" cy="102.6" r="2.1" fill="#c8c8c8" opacity="0.75" filter="url(#b1)"/>
<circle cx="46.3" cy="101.3" r="1.8" fill="#c8c8c8" opacity="0.75" filter="url(#b1)"/>
<circle cx="62.0" cy="123.5" r="1.8" fill="#c8c8c8" opacity="0.75" filter="url(#b1)"/>
<circle cx="97.3" cy="71.2" r="1.3" fill="#c8c8c8" opacity="0.75" filter="url(#b1)"/>
<circle cx="236.0" cy="126.1" r="2.1" fill="#c8c8c8" opacity="0.75" filter="url(#b1)"/>
<circle cx="136.6" cy="72.5" r="1.3" fill="#c8c8c8" opacity="0.75" filter="url(#b1)"/>
<rect width="254" height="175" filter="url(#grain)" opacity="0.22"/>
<rect width="254" height="175" filter="url(#grainL)" opacity="0.1"/>
</svg>
<line x1="1431.6" y1="132" x2="1502.5" y2="100.4" stroke="#0a0a0a" stroke-width="2.5"/><polygon points="1495.8,94.8 1514.8,94.5 1503.9,108.7" fill="#0a0a0a"/>
<text transform="translate(1315.8,158.4) scale(1,1.035)" font-size="28.2" fill="#fff" textLength="182.6" lengthAdjust="spacingAndGlyphs">Bulit-up edge</text>
<text transform="translate(1506.5,158.4) scale(1,1.07)" font-size="16" fill="#fff" textLength="56" lengthAdjust="spacingAndGlyphs">100 µm</text>
<rect x="1534" y="166.2" width="24" height="1.8" fill="#222"/>
<svg id="sem3" x="1590" y="4.7" width="253" height="175.8" viewBox="0 0 253 175.8" overflow="hidden">
<rect width="253" height="176" fill="url(#s3top)"/>
<polygon points="211.1,-2.1 254.3,-2.1 254.3,178.4 208.5,178.4 209.8,73.8" fill="#565656"/>
<ellipse cx="161.4" cy="101.3" rx="45" ry="46" fill="#868686" opacity="0.9" filter="url(#b2)"/>
<ellipse cx="173.2" cy="99.9" rx="30" ry="33" fill="#727272" opacity="0.85" filter="url(#b3)"/>
<polygon points="147.0,54.2 168.0,41.1 199.4,29.3 202.5,71.2 188.9,73.8 168.0,65.9" fill="#636363" opacity="0.6" filter="url(#roughb)"/>
<polygon points="170.6,144.4 199.4,123.5 202.5,178.4 173.2,178.4" fill="#7a7a7a" opacity="0.8" filter="url(#b3)"/>
<polygon points="132.7,88.2 188.9,90.8 188.9,93.4 132.7,91.6" fill="#a8a8a8" opacity="0.7" filter="url(#b1)"/>
<polygon points="196.8,4.2 212.5,6.3 214.5,26.7 212.5,47.6 211.4,73.8 213.0,99.9 210.4,126.1 209.8,178.4 200.9,178.4 201.5,141.8 199.4,107.8 204.1,81.6 202.0,55.5 205.1,29.3" fill="#ececec" filter="url(#rough2)"/>
<circle cx="24.1" cy="45.0" r="2.4" fill="#4e4e4e" opacity="0.6" filter="url(#b1)"/>
<circle cx="54.2" cy="42.4" r="2.6" fill="#4e4e4e" opacity="0.6" filter="url(#b1)"/>
<circle cx="55.5" cy="85.6" r="1.8" fill="#4e4e4e" opacity="0.6" filter="url(#b1)"/>
<circle cx="25.4" cy="65.9" r="1.6" fill="#4e4e4e" opacity="0.6" filter="url(#b1)"/>
<circle cx="12.3" cy="109.1" r="2.4" fill="#4e4e4e" opacity="0.6" filter="url(#b1)"/>
<circle cx="73.8" cy="103.9" r="1.6" fill="#bdbdbd" opacity="0.6" filter="url(#b1)"/>
<circle cx="94.7" cy="65.9" r="1.3" fill="#bdbdbd" opacity="0.6" filter="url(#b1)"/>
<circle cx="157.5" cy="55.5" r="2.1" fill="#4e4e4e" opacity="0.6" filter="url(#b1)"/>
<circle cx="173.2" cy="51.5" r="1.8" fill="#4e4e4e" opacity="0.6" filter="url(#b1)"/>
<rect width="253" height="176" filter="url(#grain)" opacity="0.2"/>
</svg>
<line x1="1692.5" y1="136.1" x2="1764.8" y2="103.2" stroke="#0a0a0a" stroke-width="2.5"/><polygon points="1757.6,99.3 1775.2,98.7 1765.8,111.5" fill="#0a0a0a"/>
<text transform="translate(1594.8,158.4) scale(1,1.035)" font-size="28.2" fill="#fff" textLength="183.5" lengthAdjust="spacingAndGlyphs">Bulit-up edge</text>
<text transform="translate(1785.6,158.4) scale(1,1.07)" font-size="16" fill="#fff" textLength="55" lengthAdjust="spacingAndGlyphs">100 µm</text>
<rect x="1810.2" y="171" width="24" height="1.9" fill="#1a1a1a"/>
<g id="chartB">
<rect x="1150.7" y="240.2" width="545.5" height="382.1" fill="#fff" stroke="none"/>
</g>
<g id="chartBbody" filter="url(#soft)">
<line x1="1205.1" y1="444.5" x2="1696.2" y2="444.5" stroke="#1a1a1a" stroke-width="2.5" stroke-dasharray="9.4 9.35"/>
<line x1="1433" y1="289.8" x2="1696.2" y2="289.8" stroke="#1a1a1a" stroke-width="2.2" stroke-dasharray="9.5 9.5"/>
<line x1="1209.9" y1="446" x2="1209.9" y2="622.3" stroke="#3a2cf0" stroke-width="2.3" stroke-dasharray="8 8.5"/>
<line x1="1320.5" y1="448" x2="1320.5" y2="622.3" stroke="#4b827c" stroke-width="2.6" stroke-dasharray="8 8.5"/>
<line x1="1432.9" y1="292" x2="1432.9" y2="622.3" stroke="#e22c4c" stroke-width="2.9" stroke-dasharray="8 8.5"/>
<rect x="1150.7" y="240.2" width="545.5" height="382.1" fill="none" stroke="#262626" stroke-width="1.8"/>
<line x1="1150.7" y1="622.3" x2="1696.2" y2="622.3" stroke="#1a1a1a" stroke-width="3"/>
<line x1="1150.7" y1="240.2" x2="1150.7" y2="622.3" stroke="#1a1a1a" stroke-width="2.6"/>
<line x1="1182.6" y1="622.3" x2="1182.6" y2="617.8" stroke="#1a1a1a" stroke-width="2"/>
<line x1="1214.5" y1="622.3" x2="1214.5" y2="613.8" stroke="#1a1a1a" stroke-width="2"/>
<line x1="1246.4" y1="622.3" x2="1246.4" y2="617.8" stroke="#1a1a1a" stroke-width="2"/>
<line x1="1278.4" y1="622.3" x2="1278.4" y2="613.8" stroke="#1a1a1a" stroke-width="2"/>
<line x1="1310.3" y1="622.3" x2="1310.3" y2="617.8" stroke="#1a1a1a" stroke-width="2"/>
<line x1="1342.2" y1="622.3" x2="1342.2" y2="613.8" stroke="#1a1a1a" stroke-width="2"/>
<line x1="1374.1" y1="622.3" x2="1374.1" y2="617.8" stroke="#1a1a1a" stroke-width="2"/>
<line x1="1406.0" y1="622.3" x2="1406.0" y2="613.8" stroke="#1a1a1a" stroke-width="2"/>
<line x1="1437.9" y1="622.3" x2="1437.9" y2="617.8" stroke="#1a1a1a" stroke-width="2"/>
<line x1="1469.8" y1="622.3" x2="1469.8" y2="613.8" stroke="#1a1a1a" stroke-width="2"/>
<line x1="1501.7" y1="622.3" x2="1501.7" y2="617.8" stroke="#1a1a1a" stroke-width="2"/>
<line x1="1533.7" y1="622.3" x2="1533.7" y2="613.8" stroke="#1a1a1a" stroke-width="2"/>
<line x1="1565.6" y1="622.3" x2="1565.6" y2="617.8" stroke="#1a1a1a" stroke-width="2"/>
<line x1="1597.5" y1="622.3" x2="1597.5" y2="613.8" stroke="#1a1a1a" stroke-width="2"/>
<line x1="1629.4" y1="622.3" x2="1629.4" y2="617.8" stroke="#1a1a1a" stroke-width="2"/>
<line x1="1661.3" y1="622.3" x2="1661.3" y2="613.8" stroke="#1a1a1a" stroke-width="2"/>
<line x1="1150.7" y1="592.8" x2="1157.7" y2="592.8" stroke="#1a1a1a" stroke-width="2"/>
<line x1="1150.7" y1="563.3" x2="1161.2" y2="563.3" stroke="#1a1a1a" stroke-width="2"/>
<line x1="1150.7" y1="533.8" x2="1157.7" y2="533.8" stroke="#1a1a1a" stroke-width="2"/>
<line x1="1150.7" y1="504.3" x2="1161.2" y2="504.3" stroke="#1a1a1a" stroke-width="2"/>
<line x1="1150.7" y1="474.8" x2="1157.7" y2="474.8" stroke="#1a1a1a" stroke-width="2"/>
<line x1="1150.7" y1="445.3" x2="1161.2" y2="445.3" stroke="#1a1a1a" stroke-width="2"/>
<line x1="1150.7" y1="415.8" x2="1157.7" y2="415.8" stroke="#1a1a1a" stroke-width="2"/>
<line x1="1150.7" y1="386.3" x2="1161.2" y2="386.3" stroke="#1a1a1a" stroke-width="2"/>
<line x1="1150.7" y1="356.8" x2="1157.7" y2="356.8" stroke="#1a1a1a" stroke-width="2"/>
<line x1="1150.7" y1="327.3" x2="1161.2" y2="327.3" stroke="#1a1a1a" stroke-width="2"/>
<line x1="1150.7" y1="297.8" x2="1157.7" y2="297.8" stroke="#1a1a1a" stroke-width="2"/>
<line x1="1150.7" y1="268.3" x2="1161.2" y2="268.3" stroke="#1a1a1a" stroke-width="2"/>
<polyline points="1150.7,622.3 1210.2,443" fill="none" stroke="#2a14f4" stroke-width="4.3" stroke-linecap="round"/>
<polyline points="1210.2,443 1221.8,410.5" fill="none" stroke="#2a14f4" stroke-width="2.8"/>
<polyline points="1150.7,622.3 1222.1,516.8 1293.0,486.5 1324.6,443.0 1432.5,286.5" fill="none" stroke="#367272" stroke-width="4.2" stroke-linejoin="round"/>
<polyline points="1150.7,622.3 1222.9,546.4 1293.0,528.7 1432.9,438.6 1638.1,416.9" fill="none" stroke="#d21a22" stroke-width="4.2" stroke-linejoin="round"/>
<polygon points="1222,402 1229.6,415.8 1214.4,415.8" fill="#2a14f4"/>
<polygon points="1222.1,508.8 1229.6,516.8 1222.1,524.8 1214.6,516.8" fill="#367272"/>
<polygon points="1293.0,478.5 1300.5,486.5 1293.0,494.5 1285.5,486.5" fill="#367272"/>
<polygon points="1432.5,278.5 1440.0,286.5 1432.5,294.5 1425.0,286.5" fill="#367272"/>
<ellipse cx="1222.9" cy="546.4" rx="7" ry="6.2" fill="#d21a22"/>
<ellipse cx="1293.0" cy="528.7" rx="7" ry="6.2" fill="#d21a22"/>
<ellipse cx="1638.1" cy="416.9" rx="7" ry="6.2" fill="#d21a22"/>
<circle cx="1218.5" cy="440.6" r="5.4" fill="#fff" stroke="#2a14f4" stroke-width="3.6"/>
<circle cx="1324.6" cy="442" r="7.4" fill="#72c326"/>
<circle cx="1324.6" cy="442" r="2" fill="#4f9a4a"/>
<circle cx="1432.9" cy="438.6" r="7.3" fill="#d21a22"/>
<circle cx="1432.9" cy="438.6" r="2" fill="#9c4a3a"/>
<rect x="1184.7" y="262.4" width="170.6" height="89" fill="#fff" stroke="#8a8a8a" stroke-width="1.2"/>
<line x1="1191" y1="282" x2="1244" y2="282" stroke="#2a14f4" stroke-width="4"/>
<polygon points="1217.3,276.3 1223.8,286 1210.8,286" fill="#2a14f4"/>
<line x1="1191" y1="309.6" x2="1244" y2="309.6" stroke="#367272" stroke-width="4"/>
<polygon points="1217.3,302.4 1224.3,309.6 1217.3,316.8 1210.3,309.6" fill="#367272"/>
<line x1="1191" y1="339.5" x2="1244" y2="339.5" stroke="#d21a22" stroke-width="4"/>
<ellipse cx="1218.3" cy="339.5" rx="6.8" ry="7.3" fill="#d21a22"/>
<line x1="1153.8" y1="180.2" x2="1211.0" y2="426.2" stroke="#3a28f6" stroke-width="2.7"/>
<polygon points="1213.7,437.9 1204.2,424.7 1216.4,421.9" fill="#3a28f6"/>
<line x1="1429.2" y1="180.2" x2="1332.6" y2="425.8" stroke="#47801e" stroke-width="2.6"/>
<polygon points="1328.2,437.0 1327.9,420.8 1339.5,425.3" fill="#47801e"/>
<line x1="1703.7" y1="180.2" x2="1448.2" y2="418.8" stroke="#d8202e" stroke-width="2.6"/>
<polygon points="1439.4,427.0 1446.1,412.2 1454.6,421.3" fill="#d8202e"/>
</g>
<g id="textB" fill="#000">
<text x="1247.6" y="290.4" font-size="23.8" textLength="62.2" lengthAdjust="spacingAndGlyphs">TiAIN</text>
<text x="1247.6" y="317" font-size="23.8" textLength="85.2" lengthAdjust="spacingAndGlyphs">TiAISIN</text>
<text x="1247.6" y="346.9" font-size="23.8" textLength="111.4" lengthAdjust="spacingAndGlyphs">G-TiAISIN</text>
<text transform="translate(1136.3,276.9) scale(1,1.075)" font-size="36.5" text-anchor="end">0.6</text>
<text transform="translate(1136.3,394.9) scale(1,1.075)" font-size="36.5" text-anchor="end">0.4</text>
<text transform="translate(1136.3,512.9) scale(1,1.075)" font-size="36.5" text-anchor="end">0.2</text>
<text transform="translate(1136.3,631.4) scale(1,1.075)" font-size="36.5" text-anchor="end">0</text>
<text transform="translate(1150.6,661) scale(1,1.075)" font-size="36.5" text-anchor="middle">0</text>
<text transform="translate(1278.3,661) scale(1,1.075)" font-size="36.5" text-anchor="middle">100</text>
<text transform="translate(1405.9,661) scale(1,1.075)" font-size="36.5" text-anchor="middle">200</text>
<text transform="translate(1533.6,661) scale(1,1.075)" font-size="36.5" text-anchor="middle">300</text>
<text transform="translate(1661.2,661) scale(1,1.075)" font-size="36.5" text-anchor="middle">400</text>
<text x="1292.2" y="706.3" font-size="36.6" textLength="294" lengthAdjust="spacingAndGlyphs">Cutting lenth (m)</text>
<text transform="translate(1061.4,519.4) rotate(-90)" font-size="37.2" textLength="149.6" lengthAdjust="spacingAndGlyphs"><tspan font-style="italic">VB</tspan> (mm)</text>
<text x="1029.6" y="241.8" font-size="36.2" textLength="47.2" lengthAdjust="spacingAndGlyphs">(b)</text>
<text transform="translate(1706.6,302) scale(1,1.083)" font-size="37" textLength="92.6" lengthAdjust="spacingAndGlyphs">0.557</text>
<text transform="translate(1706.6,461) scale(1,1.083)" font-size="37" textLength="50" lengthAdjust="spacingAndGlyphs">0.3</text>
</g>
</svg>
</body>
</html>
